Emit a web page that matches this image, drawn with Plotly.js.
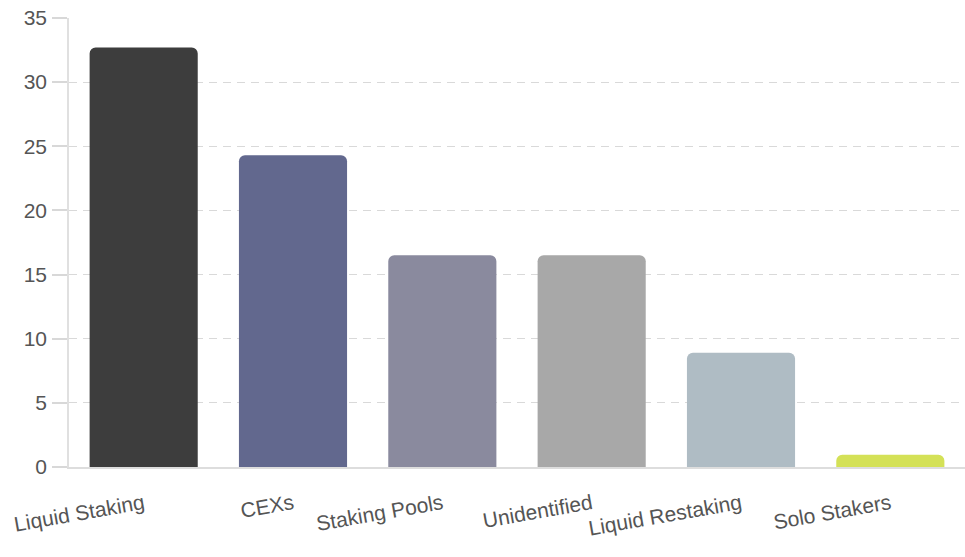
<!DOCTYPE html>
<html>
<head>
<meta charset="utf-8">
<script src="https://cdn.plot.ly/plotly-3.0.1.min.js"></script>
<style>
  html, body { margin: 0; padding: 0; background: #fff; }
  #graph { width: 965px; height: 557px; }
</style>
</head>
<body>
<div id="graph"></div>
<script>
// categories and values
let categories = ['Liquid Staking', 'CEXs', 'Staking Pools', 'Unidentified', 'Liquid Restaking', 'Solo Stakers'];
let values = [32.7, 24.3, 16.5, 16.5, 8.9, 0.95];
let barColors = ['#3d3d3d', '#62688e', '#8a8a9e', '#a8a8a8', '#afbcc4', '#d4e157'];
let yTicks = [0, 5, 10, 15, 20, 25, 30, 35];

var trace = {
  x: categories,
  y: values,
  type: 'bar',
  marker: { color: barColors, cornerradius: 6 },
  hoverinfo: 'x+y'
};

var layout = {
  width: 965,
  height: 557,
  margin: { l: 69, r: 0, t: 18, b: 90 },
  paper_bgcolor: '#fff',
  plot_bgcolor: '#fff',
  bargap: 0.276,
  showlegend: false,
  font: { family: 'Liberation Sans, Arial, sans-serif', color: '#555' },
  xaxis: {
    tickangle: -10,
    tickfont: { size: 21, color: '#555' },
    ticklabelstandoff: 15,
    showline: true,
    linecolor: '#dddddd',
    linewidth: 1.5,
    ticks: '',
    showgrid: false,
    fixedrange: true
  },
  yaxis: {
    range: [0, 35],
    tickvals: yTicks,
    ticktext: yTicks.map(String),
    tickfont: { size: 21, color: '#555' },
    showline: true,
    linecolor: '#e0e0e0',
    linewidth: 1.5,
    ticks: 'outside',
    ticklen: 15,
    tickcolor: '#d8d8d8',
    tickwidth: 1.5,
    ticklabelstandoff: 1,
    showgrid: true,
    gridcolor: '#d9d9d9',
    griddash: '8px,6px',
    gridwidth: 1.3,
    zeroline: false,
    fixedrange: true
  }
};

Plotly.newPlot('graph', [trace], layout, { displayModeBar: false });
</script>
</body>
</html>
